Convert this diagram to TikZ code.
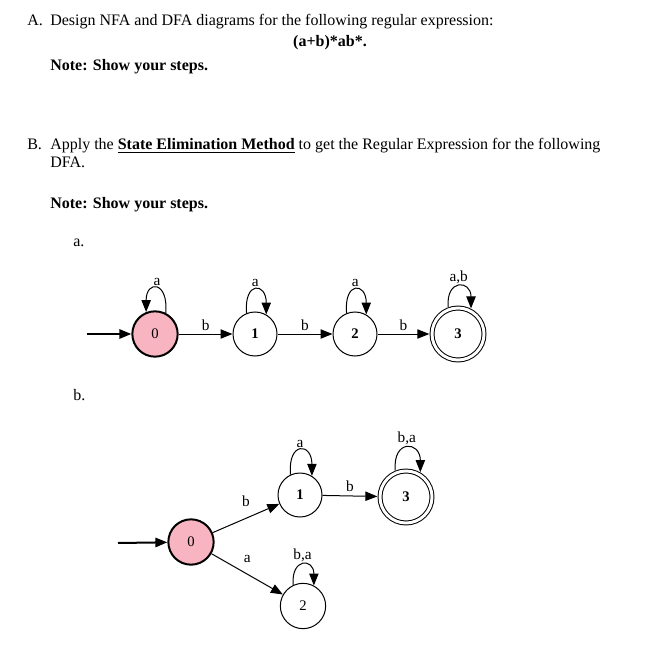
\documentclass[tikz,border=0pt]{standalone}
\usepackage{fontspec}
\setmainfont{Liberation Serif}
\usetikzlibrary{arrows.meta}
\usetikzlibrary{calc}
\definecolor{startpink}{RGB}{248,180,192}

\begin{document}
\begin{tikzpicture}[x=0.75pt,y=-0.75pt]

    \tikzstyle{txt}    = [anchor=base west, inner sep=0pt, font=\fontsize{12}{14}\selectfont]
    \tikzstyle{state}  = [circle, draw, line width=0.75pt, minimum size=33pt, inner sep=0pt, fill=white, font=\fontsize{11}{13}\selectfont\bfseries]
    \tikzstyle{start}  = [state, fill=startpink, line width=1.5pt, minimum size=34pt, font=\fontsize{11}{13}\selectfont]
    \tikzstyle{accept} = [state, double, double distance=2.2pt, minimum size=39pt, outer sep=2pt]
    \tikzstyle{trans}  = [-{Triangle[length=9pt,width=7pt]}, line width=0.75pt]
    \tikzstyle{lbl}    = [inner sep=1pt, font=\fontsize{11.5}{13}\selectfont]

    \useasboundingbox (0,0) rectangle (652,648);

    % question text
    \node [txt](qa) at (27,26) {A.};
    \node [txt](qatext) at (50,26) {Design NFA and DFA diagrams for the following regular expression:};
    \node [txt, anchor=base, font=\fontsize{12}{14}\selectfont\bfseries](qexpr) at (330,47) {(a+b)*ab*.};
    \node [txt, font=\fontsize{12}{14}\selectfont\bfseries](qanote) at (50,71) {Note: Show your steps.};
    \node [txt](qb) at (27,150) {B.};
    \node [txt](qbtext) at (50,150) {Apply the \underline{\textbf{State Elimination Method}} to get the Regular Expression for the following};
    \node [txt](qbdfa) at (50,168) {DFA.};
    \node [txt, font=\fontsize{12}{14}\selectfont\bfseries](qbnote) at (50,209) {Note: Show your steps.};
    \node [txt](la) at (73,247) {a.};
    \node [txt](lb) at (73,400) {b.};

    % DFA a
    \node [start](a0) at (155,334) {0};
    \node [state](a1) at (255,334) {1};
    \node [state](a2) at (355,334) {2};
    \node [accept](a3) at (458,334) {3};
    \coordinate (ain) at (87,334);
    \draw [trans, line width=1.5pt] (ain) -- (a0);
    \draw [trans] (a0) -- node[lbl, above=1.5pt]{b} (a1);
    \draw [trans] (a1) -- node[lbl, above=1.5pt]{b} (a2);
    \draw [trans] (a2) -- node[lbl, above=1.5pt]{b} (a3);
    \draw [trans] (a0.63) to[out=85, in=90, looseness=4.2] node[lbl, above=0.5pt]{a} (a0.112);
    \draw [trans] (a1.112) to[out=95, in=90, looseness=4.2] node[lbl, above=0.5pt]{a} (a1.60);
    \draw [trans] (a2.112) to[out=95, in=90, looseness=4.2] node[lbl, above=0.5pt]{a} (a2.60);
    \draw [trans] (a3.110) to[out=95, in=90, looseness=3.2] node[lbl, above=0.5pt]{a,b} (a3.63);

    % DFA b
    \node [start](b0) at (191,542) {0};
    \node [state](b1) at (300,495) {1};
    \node [accept](b3) at (406,497) {3};
    \node [state, minimum size=34pt, font=\fontsize{11}{13}\selectfont](b2) at (303,606) {2};
    \coordinate (bin) at (118,543);
    \draw [trans, line width=1.5pt] (bin) -- (b0);
    \draw [trans] (b0) -- node[lbl, above=7pt]{b} (b1);
    \draw [trans] (b0) -- node[lbl, above=7pt]{a} (b2);
    \draw [trans] (b1) -- node[lbl, above=2pt]{b} (b3);
    \draw [trans] (b1.115) to[out=95, in=90, looseness=4] node[lbl, above=0.5pt]{a} (b1.58);
    \draw [trans] (b3.112) to[out=95, in=90, looseness=3.2] node[lbl, above=0.5pt]{b,a} (b3.60);
    \draw [trans] (b2.115) to[out=95, in=90, looseness=3.4] node[lbl, above=0.5pt]{b,a} (b2.62);
\end{tikzpicture}
\end{document}
